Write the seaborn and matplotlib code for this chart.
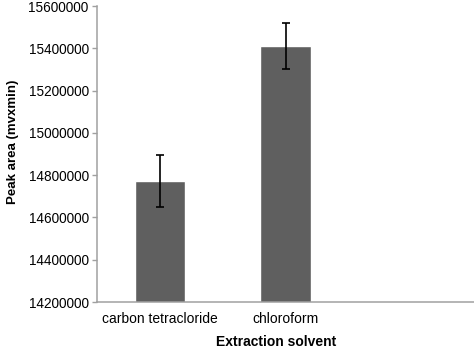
import matplotlib
matplotlib.use("Agg")
import matplotlib.pyplot as plt
import seaborn as sns
import pandas as pd
import numpy as np

# Peak areas by extraction solvent, with standard deviation
solvents = ["carbon tetracloride", "chloroform"]
peak_area = [14772000, 15412000]
peak_sd = [124000, 108000]
y_ticks = [14200000, 14400000, 14600000, 14800000, 15000000, 15200000, 15400000, 15600000]

sns.set_theme(style="white")
plt.rcParams["font.family"] = ["Liberation Sans", "DejaVu Sans"]

df = pd.DataFrame({"solvent": solvents, "area": peak_area})

W, H = 474, 348
left, right, top, bottom = 97, 474, 6, 302
fig = plt.figure(figsize=(W / 100, H / 100), dpi=100)
ax = fig.add_axes([left / W, 1 - bottom / H, (right - left) / W, (bottom - top) / H])

sns.barplot(data=df, x="solvent", y="area", color="#5f5f5f", saturation=1,
            width=0.4, errorbar=None, ax=ax)
ax.errorbar(np.arange(len(solvents)), peak_area, yerr=peak_sd, fmt="none",
            ecolor="black", elinewidth=1.2, capsize=3, capthick=1.2)

# an empty third slot keeps the category axis running to the right edge
ax.set_xlim(-0.5, 2.5)
ax.set_ylim(y_ticks[0], y_ticks[-1])
ax.set_yticks(y_ticks)
ax.set_yticklabels([str(t) for t in y_ticks])
ax.tick_params(axis="x", labelsize=10, labelcolor="black", length=0, pad=7)
ax.tick_params(axis="y", labelsize=9.8, labelcolor="black", left=True,
               direction="out", length=3.5, width=1, color="#a0a0a0", pad=2.5)

for side in ["top", "right"]:
    ax.spines[side].set_visible(False)
for side in ["left", "bottom"]:
    ax.spines[side].set_color("#a0a0a0")
    ax.spines[side].set_linewidth(1.1)

ax.set_xlabel("Extraction solvent", fontsize=10, fontweight="bold", color="black")
ax.set_ylabel("Peak area (mvxmin)", fontsize=9.5, fontweight="bold", color="black")
ax.xaxis.set_label_coords(0.476, -0.11)
ax.yaxis.set_label_coords(-0.207, 0.54)

fig.savefig("out.png", dpi=100)
